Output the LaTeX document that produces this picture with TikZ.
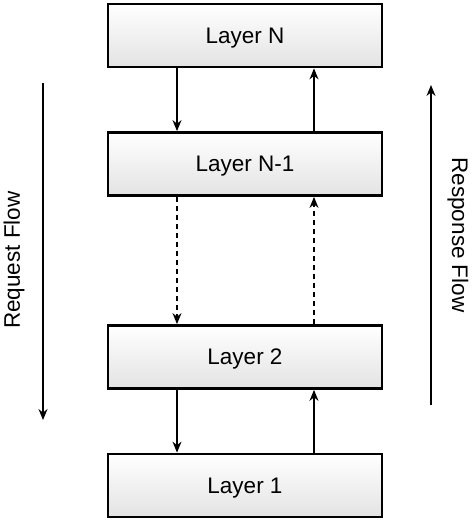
\documentclass[tikz,border=0pt]{standalone}
\usepackage{fontspec}
\setmainfont{Liberation Sans}
\usetikzlibrary{arrows.meta}
\begin{document}
\begin{tikzpicture}[x=1pt,y=-1pt,
  layer/.style={draw=black, line width=2.8pt, top color=white, bottom color=black!11,
    minimum width=274pt, minimum height=63pt, inner sep=0pt, text depth=0pt,
    font=\fontsize{22.5}{26}\selectfont},
  conn/.style={line width=1.3pt, -{Stealth[length=11pt,width=9pt]}},
  dashconn/.style={conn, dash pattern=on 5pt off 4pt},
  flowlbl/.style={font=\fontsize{22.5}{26}\selectfont, inner sep=0pt}]
\useasboundingbox (0,0) rectangle (474,520);
\node[layer] (ln) at (245,35.5) {Layer N};
\node[layer] (ln1) at (245,164) {Layer N-1};
\node[layer] (l2) at (245,357) {Layer 2};
\node[layer] (l1) at (245,485.5) {Layer 1};
\draw[conn] (ln.south -| 177,0) -- (ln1.north -| 177,0);
\draw[conn] (ln1.north -| 314,0) -- (ln.south -| 314,0);
\draw[dashconn] (ln1.south -| 177,0) -- (l2.north -| 177,0);
\draw[dashconn] (l2.north -| 314,0) -- (ln1.south -| 314,0);
\draw[conn] (l2.south -| 177,0) -- (l1.north -| 177,0);
\draw[conn] (l1.north -| 314,0) -- (l2.south -| 314,0);
\coordinate (rqa) at (43,83);
\coordinate (rqb) at (43,420);
\draw[conn] (rqa) -- (rqb);
\node[flowlbl, rotate=90] (rq) at (14,260) {Request Flow};
\coordinate (rsa) at (431,405);
\coordinate (rsb) at (431,85);
\draw[conn] (rsa) -- (rsb);
\node[flowlbl, rotate=-90] (rs) at (458,235) {Response Flow};
\end{tikzpicture}
\end{document}
